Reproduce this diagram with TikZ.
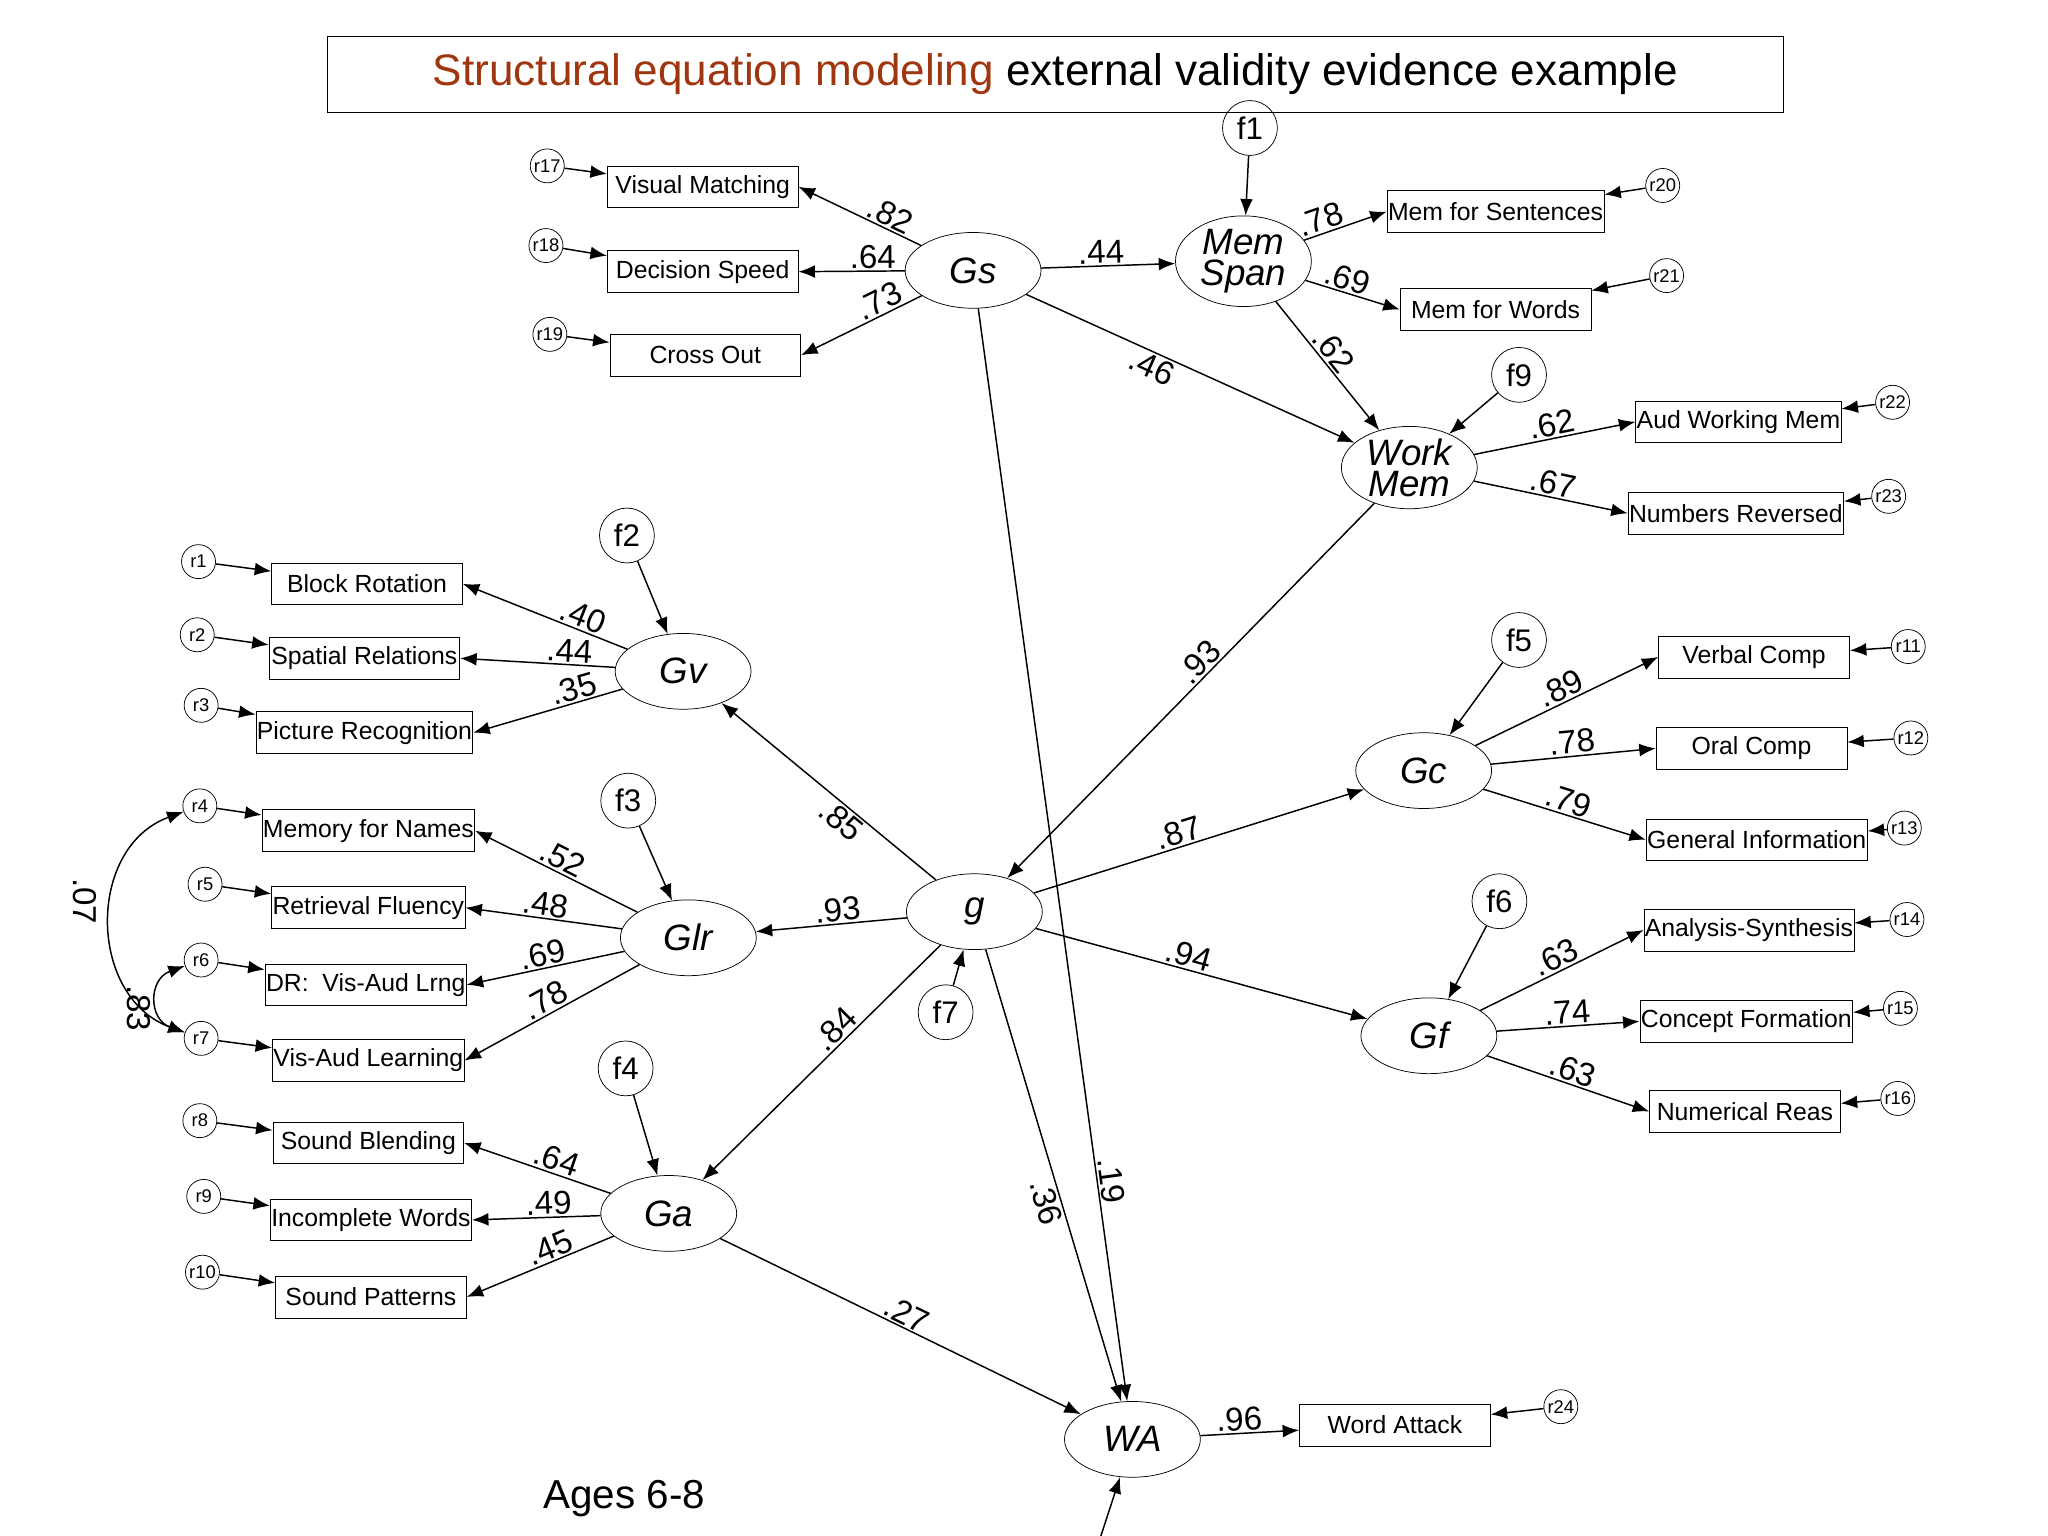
\documentclass[tikz,border=0pt]{standalone}
\usepackage{fontspec}
\setmainfont{Liberation Sans}
\usetikzlibrary{arrows.meta,shapes.geometric}

\definecolor{titlebrown}{HTML}{A0360F}

\tikzset{
  latent/.style={draw, ellipse, minimum width=2.6cm, minimum height=1.45cm, inner sep=0pt,
    font=\fontsize{20}{17}\selectfont\itshape, align=center},
  obs/.style={draw, rectangle, minimum width=3.65cm, minimum height=0.8cm, inner sep=0.5pt,
    font=\fontsize{13.5}{15}\selectfont},
  dist/.style={draw, circle, minimum size=1.05cm, inner sep=0pt, font=\fontsize{17}{18}\selectfont},
  res/.style={draw, circle, minimum size=0.65cm, inner sep=0pt, font=\fontsize{10}{11}\selectfont},
  path/.style={-{Latex[length=9pt,width=7pt]}, thick},
  coef/.style={sloped, above, font=\fontsize{18}{18}\selectfont, inner sep=1pt},
}

\begin{document}
\begin{tikzpicture}[x=0.025cm, y=-0.025cm]
\useasboundingbox (0,0) rectangle (1568,1176);

% title
\node[draw, minimum width=27.85cm, minimum height=1.45cm, font=\fontsize{24}{26}\selectfont]
  (title) at (808,57) {\textcolor{titlebrown}{Structural equation modeling} external validity evidence example};

% latent factors
\node[latent] (Gs) at (745,207) {Gs};
\node[latent] (MemSpan) at (952,200) {Mem\\Span};
\node[latent] (WorkMem) at (1079,358) {Work\\Mem};
\node[latent] (Gv) at (523,514) {Gv};
\node[latent] (Glr) at (527,718) {Glr};
\node[latent] (Ga) at (512,929) {Ga};
\node[latent] (g) at (746,698) {g};
\node[latent] (Gc) at (1090,590) {Gc};
\node[latent] (Gf) at (1094,793) {Gf};
\node[latent] (WA) at (867,1102) {WA};

% disturbances
\node[dist] (f1) at (957,98) {f1};
\node[dist] (f9) at (1163,287) {f9};
\node[dist] (f2) at (480,410) {f2};
\node[dist] (f3) at (481,613) {f3};
\node[dist] (f4) at (479,818) {f4};
\node[dist] (f5) at (1163,490) {f5};
\node[dist] (f6) at (1148,690) {f6};
\node[dist] (f7) at (724,775) {f7};
\node[dist] (f8) at (835,1200) {};

% observed tests
\node[obs] (VisMatch) at (538,143) {Visual Matching};
\node[obs] (DecSpeed) at (538,208) {Decision Speed};
\node[obs] (CrossOut) at (540,272) {Cross Out};
\node[obs] (MemSent) at (1145,162) {Mem for Sentences};
\node[obs] (MemWords) at (1145,237) {Mem for Words};
\node[obs] (AudWM) at (1331,323) {Aud Working Mem};
\node[obs] (NumRev) at (1329,393) {Numbers Reversed};
\node[obs] (BlockRot) at (281,447) {Block Rotation};
\node[obs] (SpatRel) at (279,504) {Spatial Relations};
\node[obs] (PicRec) at (279,561) {Picture Recognition};
\node[obs] (MemNames) at (282,636) {Memory for Names};
\node[obs] (RetFlu) at (282,695) {Retrieval Fluency};
\node[obs] (DRVAL) at (280,754) {DR:\ \ Vis-Aud Lrng};
\node[obs] (VAL) at (282,812) {Vis-Aud Learning};
\node[obs] (SndBlend) at (282,875) {Sound Blending};
\node[obs] (IncWords) at (284,934) {Incomplete Words};
\node[obs] (SndPat) at (284,993) {Sound Patterns};
\node[obs] (VerbComp) at (1343,503) {Verbal Comp};
\node[obs] (OralComp) at (1341,573) {Oral Comp};
\node[obs] (GenInfo) at (1345,643) {General Information};
\node[obs] (AnaSyn) at (1339,712) {Analysis-Synthesis};
\node[obs] (ConForm) at (1337,782) {Concept Formation};
\node[obs] (NumReas) at (1336,851) {Numerical Reas};
\node[obs] (WordAtt) at (1068,1091) {Word Attack};

% residuals
\foreach \n/\x/\y/\t in {r17/419/127/VisMatch, r18/418/188/DecSpeed, r19/421/256/CrossOut,
    r20/1273/142/MemSent, r21/1276/211/MemWords, r22/1449/308/AudWM, r23/1446/380/NumRev,
    r1/152/430/BlockRot, r2/151/486/SpatRel, r3/154/540/PicRec, r4/153/617/MemNames,
    r5/157/677/RetFlu, r6/154/735/DRVAL, r7/154/795/VAL, r8/153/858/SndBlend,
    r9/156/916/IncWords, r10/155/974/SndPat, r11/1461/495/VerbComp, r12/1463/565/OralComp,
    r13/1458/634/GenInfo, r14/1460/704/AnaSyn, r15/1455/772/ConForm, r16/1453/841/NumReas,
    r24/1195/1077/WordAtt}{
  \node[res] (\n) at (\x,\y) {\n};
  \draw[path] (\n) -- (\t);
}

% loadings
\draw[path] (Gs) -- node[coef, pos=0.3] {.82} (VisMatch.east);
\draw[path] (Gs) -- node[coef, pos=0.3] {.64} (DecSpeed.east);
\draw[path] (Gs) -- node[coef, pos=0.3] {.73} (CrossOut.east);
\draw[path] (MemSpan) -- node[coef, pos=0.25] {.78} (MemSent.west);
\draw[path] (MemSpan) -- node[coef, pos=0.4] {.69} (MemWords.west);
\draw[path] (WorkMem) -- node[coef, pos=0.5] {.62} (AudWM.west);
\draw[path] (WorkMem) -- node[coef, pos=0.5] {.67} (NumRev.west);
\draw[path] (Gv) -- node[coef, pos=0.3] {.40} (BlockRot.east);
\draw[path] (Gv) -- node[coef, pos=0.3] {.44} (SpatRel.east);
\draw[path] (Gv) -- node[coef, pos=0.3] {.35} (PicRec.east);
\draw[path] (Glr) -- node[coef, pos=0.5] {.52} (MemNames.east);
\draw[path] (Glr) -- node[coef, pos=0.5] {.48} (RetFlu.east);
\draw[path] (Glr) -- node[coef, pos=0.5] {.69} (DRVAL.east);
\draw[path] (Glr) -- node[coef, pos=0.5] {.78} (VAL.east);
\draw[path] (Ga) -- node[coef, pos=0.4] {.64} (SndBlend.east);
\draw[path] (Ga) -- node[coef, pos=0.4] {.49} (IncWords.east);
\draw[path] (Ga) -- node[coef, pos=0.4] {.45} (SndPat.east);
\draw[path] (Gc) -- node[coef, pos=0.5] {.89} (VerbComp.west);
\draw[path] (Gc) -- node[coef, pos=0.5] {.78} (OralComp.west);
\draw[path] (Gc) -- node[coef, pos=0.5] {.79} (GenInfo.west);
\draw[path] (Gf) -- node[coef, pos=0.5] {.63} (AnaSyn.west);
\draw[path] (Gf) -- node[coef, pos=0.5] {.74} (ConForm.west);
\draw[path] (Gf) -- node[coef, pos=0.5] {.63} (NumReas.west);
\draw[path] (WA) -- node[coef, pos=0.4] {.96} (WordAtt);

% structural paths
\draw[path] (Gs) -- node[coef, pos=0.45] {.44} (MemSpan);
\draw[path] (Gs) -- node[coef, pos=0.4, below] {.46} (WorkMem);
\draw[path] (Gs) -- node[coef, pos=0.8, above] {.19} (WA);
\draw[path] (MemSpan) -- node[coef, pos=0.45] {.62} (WorkMem);
\draw[path] (WorkMem) -- node[coef, pos=0.45] {.93} (g);
\draw[path] (g) -- node[coef, pos=0.4, below] {.85} (Gv);
\draw[path] (g) -- node[coef, pos=0.45] {.93} (Glr);
\draw[path] (g) -- node[coef, pos=0.4] {.84} (Ga);
\draw[path] (g) -- node[coef, pos=0.45] {.87} (Gc);
\draw[path] (g) -- node[coef, pos=0.45] {.94} (Gf);
\draw[path] (g) -- node[coef, pos=0.55, below] {.36} (WA);
\draw[path] (Ga) -- node[coef, pos=0.5] {.27} (WA);

% disturbance arrows
\foreach \a/\b in {f1/MemSpan, f9/WorkMem, f2/Gv, f3/Glr, f4/Ga, f5/Gc, f6/Gf, f7/g, f8/WA}
  \draw[path] (\a) -- (\b);

% residual covariances
\draw[{Latex[length=9pt,width=7pt]}-{Latex[length=9pt,width=7pt]}, thick]
  (r4) to[out=200, in=160, looseness=1.2] (r7);
\draw[{Latex[length=9pt,width=7pt]}-{Latex[length=9pt,width=7pt]}, thick]
  (r6) to[out=200, in=160, looseness=1.5] (r7);
\node[rotate=-90, font=\fontsize{18}{18}\selectfont] (c07) at (65,690) {.07};
\node[rotate=-90, font=\fontsize{18}{18}\selectfont] (c83) at (106,772) {.83};

\node[font=\fontsize{22}{24}\selectfont] (ages) at (478,1147) {Ages 6-8};
\end{tikzpicture}
\end{document}
